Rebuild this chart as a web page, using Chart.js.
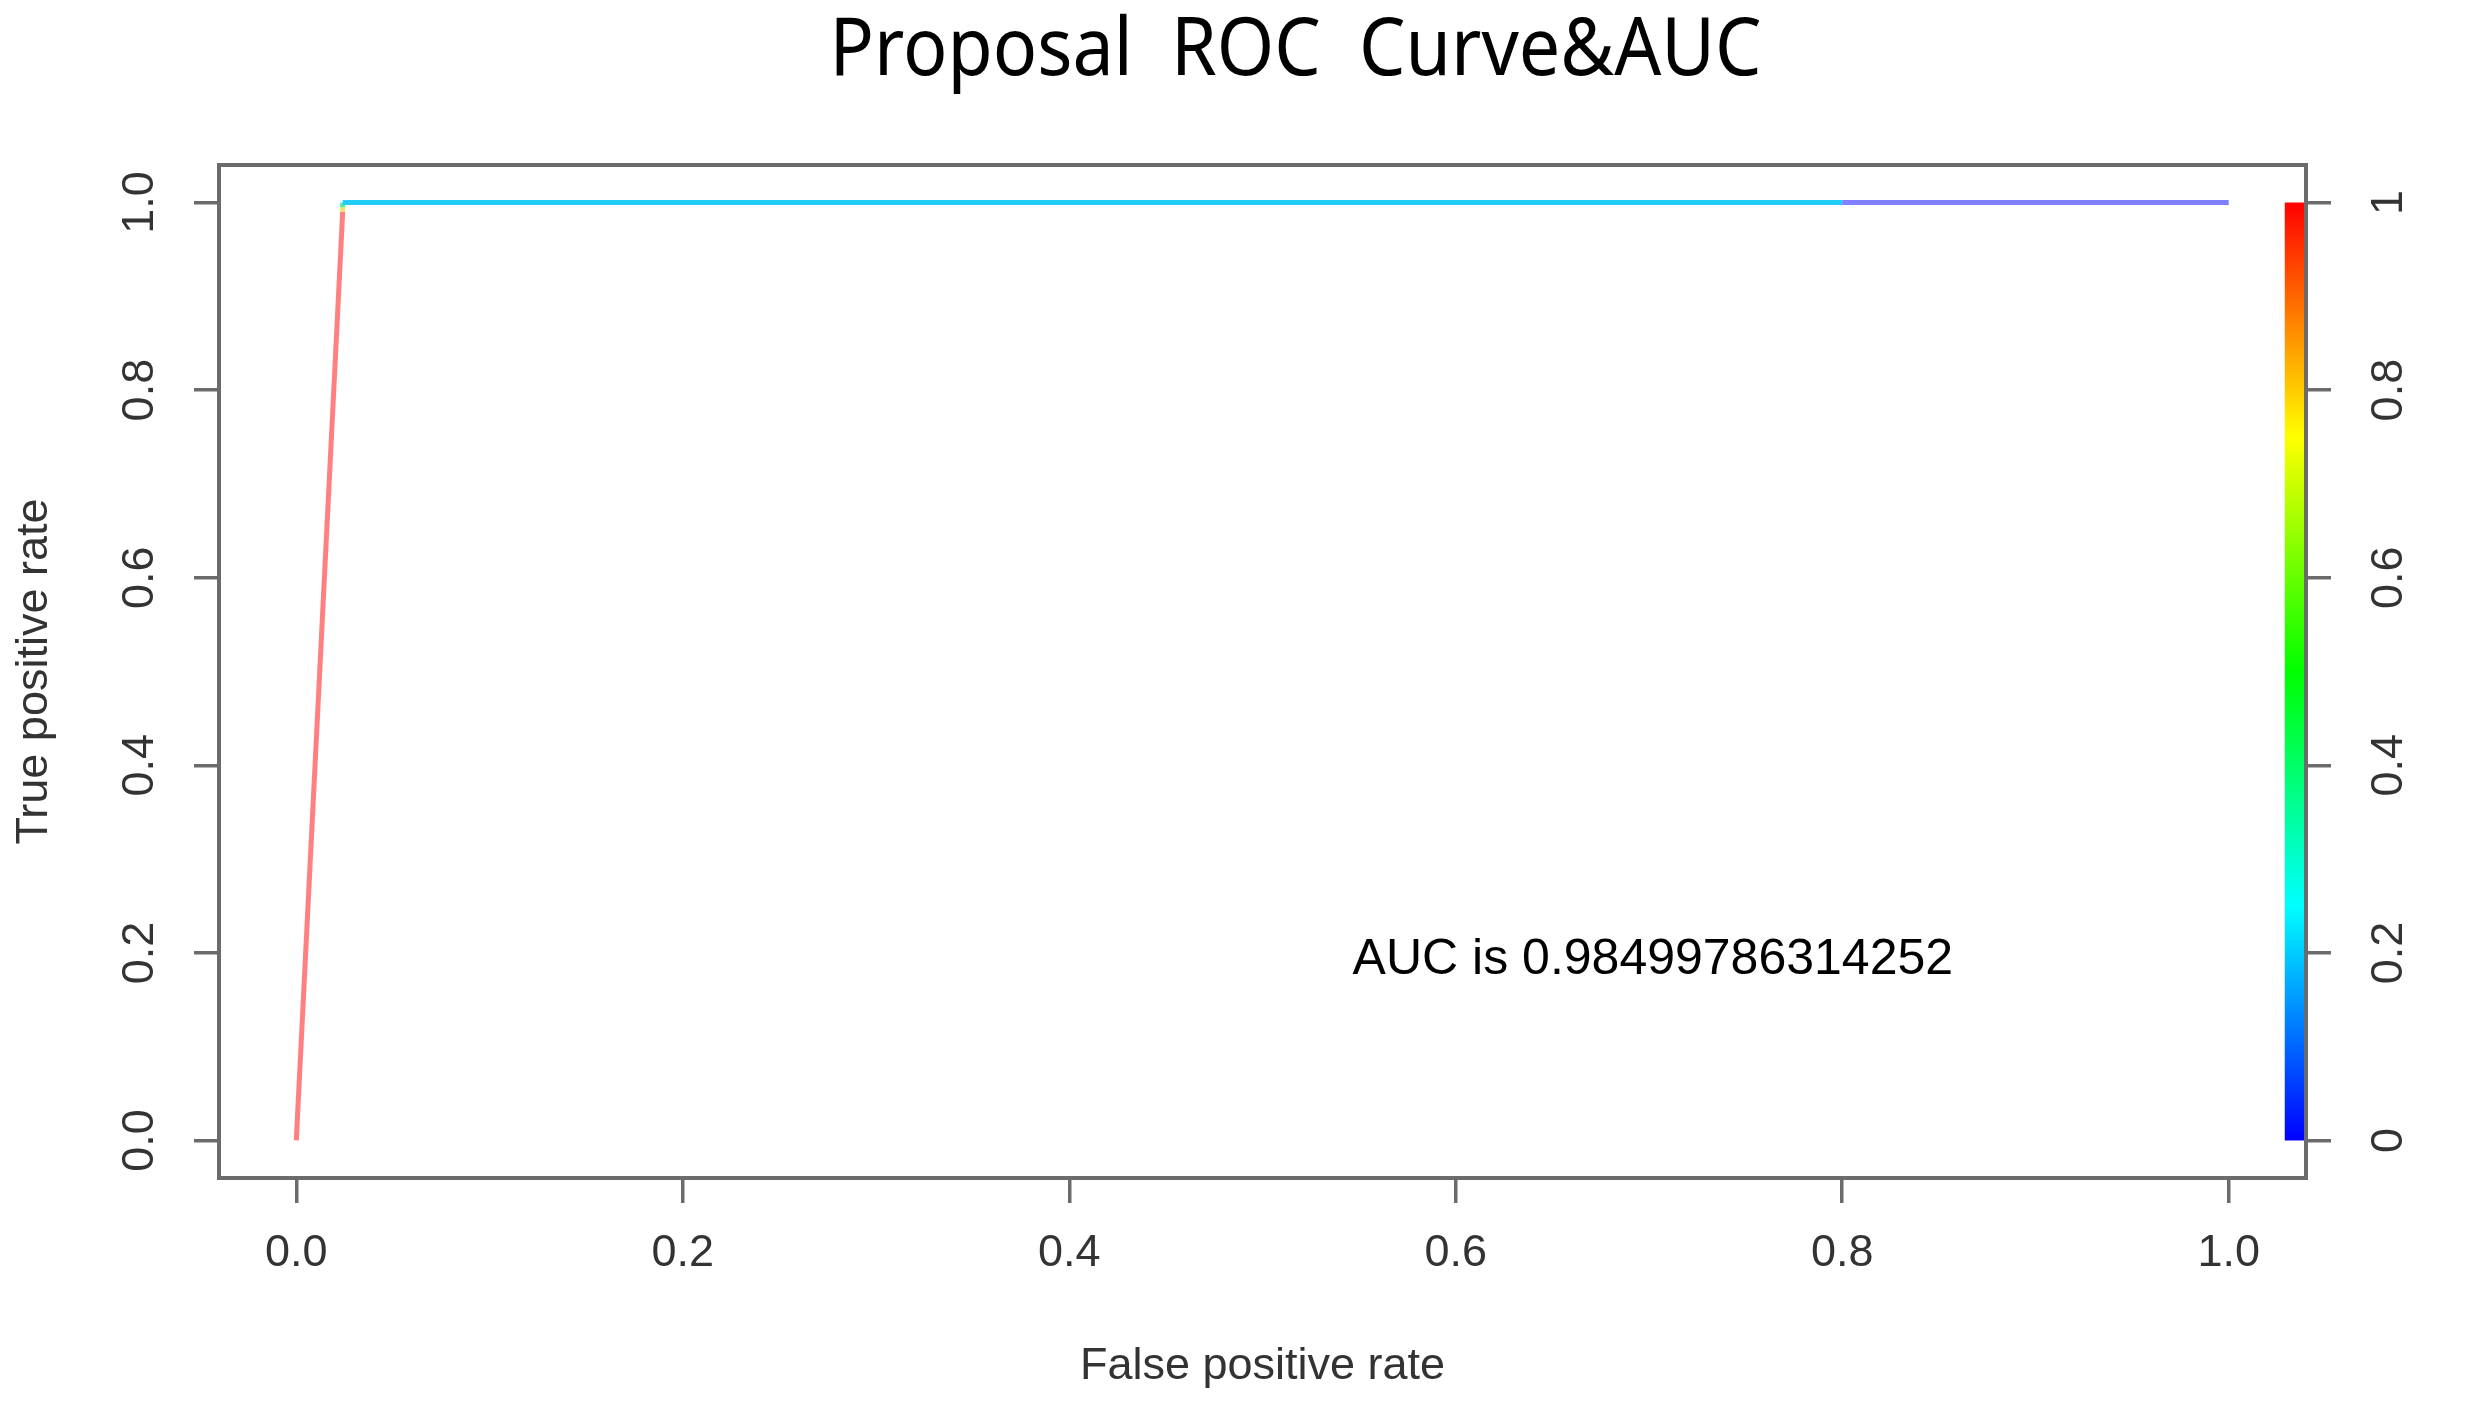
<!DOCTYPE html>
<html><head><meta charset="utf-8">
<script src="https://cdn.jsdelivr.net/npm/chart.js@4.4.1/dist/chart.umd.min.js"></script>
<style>html,body{margin:0;padding:0;background:#fff;} #wrap{width:2467px;height:1419px;position:relative;}</style>
</head><body><div id="wrap"><canvas id="c"></canvas></div>
<script>
// ROC curve points (false positive rate, true positive rate)
const fpr = [0, 0.024, 0.024, 0.024, 0.80, 1.0];
const tpr = [0, 0.99, 0.995, 1.0, 1.0, 1.0];
// colour of each segment (by cutoff, rainbow colourisation)
const segmentColors = ['#ff8080', '#eee070', '#50f0a0', '#22ccff', '#8080ff'];
const xTicks = [0, 0.2, 0.4, 0.6, 0.8, 1.0];
const xTickLabels = ['0.0', '0.2', '0.4', '0.6', '0.8', '1.0'];
const yTicks = [0, 0.2, 0.4, 0.6, 0.8, 1.0];
const yTickLabels = ['0.0', '0.2', '0.4', '0.6', '0.8', '1.0'];
const cutoffTicks = [0, 0.2, 0.4, 0.6, 0.8, 1];
const cutoffTickLabels = ['0', '0.2', '0.4', '0.6', '0.8', '1'];
const colorbarStops = [0, 0.25, 0.5, 0.75, 1];
const colorbarColors = ['#0000ff', '#00ffff', '#00ff00', '#ffff00', '#ff0000'];
const titleText = 'Proposal  ROC  Curve&AUC';
const xTitle = 'False positive rate';
const yTitle = 'True positive rate';
const aucText = 'AUC is 0.98499786314252';
const aucPos = [0.702, 0.192];

const AX = '#6b6b6b';
const TXT = '#333333';
const tickFont = {family: 'Liberation Sans', size: 45};
const titleFont = {family: 'Liberation Sans', size: 45};

const decor = {
  id: 'decor',
  afterDatasetsDraw(chart) {
    const ctx = chart.ctx, ca = chart.chartArea;
    const xs = chart.scales.x, ys = chart.scales.y;
    const yTop = ys.getPixelForValue(1), yBot = ys.getPixelForValue(0);
    const xl = xs.getPixelForValue(1.029), xr = ca.right;
    const g = ctx.createLinearGradient(0, yBot, 0, yTop);
    colorbarStops.forEach((s, i) => g.addColorStop(s, colorbarColors[i]));
    ctx.save();
    ctx.fillStyle = g;
    ctx.fillRect(xl, yTop, xr - xl, yBot - yTop);
    ctx.restore();
  },
  afterDraw(chart) {
    const ctx = chart.ctx, ca = chart.chartArea;
    const xs = chart.scales.x, ys = chart.scales.y;
    ctx.save();
    ctx.strokeStyle = AX;
    ctx.lineWidth = 4;
    ctx.strokeRect(ca.left, ca.top, ca.right - ca.left, ca.bottom - ca.top);
    // title
    ctx.fillStyle = '#000';
    ctx.font = '80px "Noto Sans"';
    ctx.textAlign = 'center';
    ctx.textBaseline = 'alphabetic';
    const cx = (ca.left + ca.right) / 2 + 33;
    ctx.translate(cx, 75);
    ctx.scale(0.92, 1);
    ctx.fillText(titleText, 0, 0);
    ctx.restore();
    // AUC annotation
    ctx.save();
    ctx.fillStyle = '#000';
    ctx.font = '50px "Liberation Sans"';
    ctx.textAlign = 'center';
    ctx.textBaseline = 'middle';
    ctx.fillText(aucText, xs.getPixelForValue(aucPos[0]), ys.getPixelForValue(aucPos[1]));
    ctx.restore();
  }
};

new Chart(document.getElementById('c'), {
  type: 'line',
  data: {
    datasets: [{
      data: fpr.map((x, i) => ({x: x, y: tpr[i]})),
      borderWidth: 5,
      pointRadius: 0,
      tension: 0,
      fill: false,
      borderColor: segmentColors[0],
      borderCapStyle: 'butt',
      borderJoinStyle: 'miter',
      segment: {borderColor: c => segmentColors[c.p0DataIndex]}
    }]
  },
  options: {
    responsive: true,
    maintainAspectRatio: false,
    animation: false,
    events: [],
    layout: {padding: {top: 165, left: 0, right: 0, bottom: 0}},
    plugins: {legend: {display: false}, tooltip: {enabled: false}, title: {display: false}},
    scales: {
      x: {
        type: 'linear', position: 'bottom', min: -0.04, max: 1.04,
        afterBuildTicks: s => { s.ticks = xTicks.map(v => ({value: v})); },
        afterFit: s => { s.height = 241; },
        ticks: {autoSkip: false, maxRotation: 0, minRotation: 0, padding: 24, font: tickFont, color: TXT,
                callback: (v, i) => xTickLabels[i]},
        grid: {drawOnChartArea: false, drawTicks: true, tickLength: 25, color: AX, lineWidth: 3.5},
        border: {display: false},
        title: {display: true, text: xTitle, font: titleFont, color: TXT, padding: {top: 0, bottom: 25}}
      },
      y: {
        type: 'linear', position: 'left', min: -0.04, max: 1.04,
        afterBuildTicks: s => { s.ticks = yTicks.map(v => ({value: v})); },
        afterFit: s => { s.width = 219; },
        ticks: {autoSkip: false, minRotation: 90, maxRotation: 90, crossAlign: 'center', padding: 22,
                font: tickFont, color: TXT, callback: (v, i) => yTickLabels[i]},
        grid: {drawOnChartArea: false, drawTicks: true, tickLength: 25, color: AX, lineWidth: 3.5},
        border: {display: false},
        title: {display: true, text: yTitle, font: titleFont, color: TXT, padding: {top: 8, bottom: 0}}
      },
      y2: {
        type: 'linear', position: 'right', min: -0.04, max: 1.04,
        afterBuildTicks: s => { s.ticks = cutoffTicks.map(v => ({value: v})); },
        afterFit: s => { s.width = 161; },
        ticks: {autoSkip: false, minRotation: 90, maxRotation: 90, crossAlign: 'center', padding: 27,
                font: tickFont, color: TXT, callback: (v, i) => cutoffTickLabels[i]},
        grid: {drawOnChartArea: false, drawTicks: true, tickLength: 25, color: AX, lineWidth: 3.5},
        border: {display: false}
      }
    }
  },
  plugins: [decor]
});
</script>
</body></html>
